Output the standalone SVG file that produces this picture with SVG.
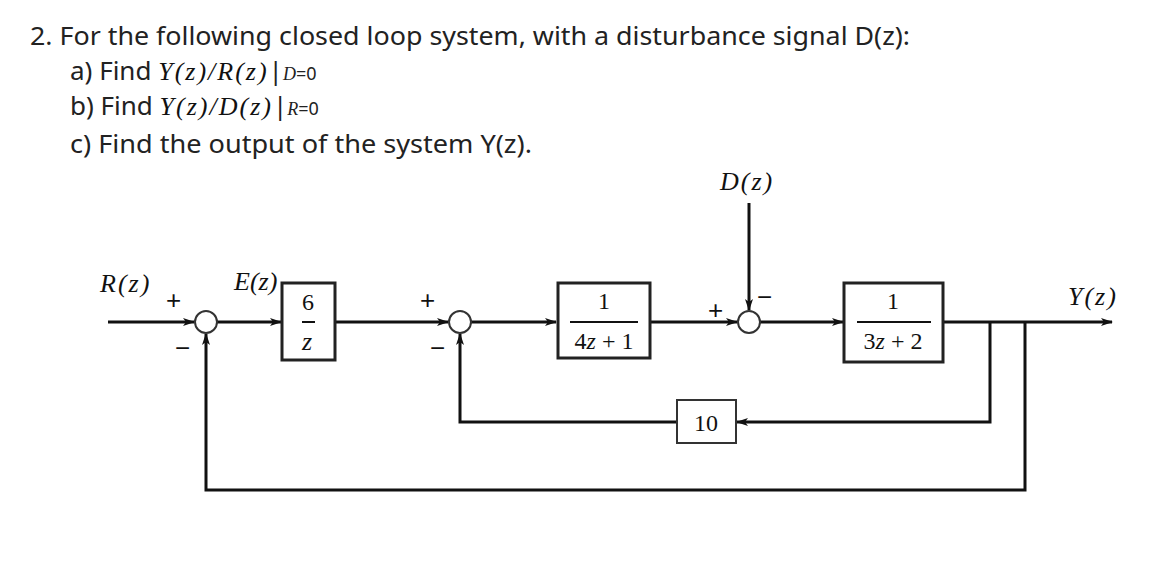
<svg xmlns="http://www.w3.org/2000/svg" width="1170" height="568" viewBox="0 0 1170 568">
<style>
.t{font-family:"Noto Sans","Liberation Sans",sans-serif;font-size:26px;fill:#222}
.m{font-family:"Liberation Serif",serif;font-style:italic;font-size:26px;fill:#111;letter-spacing:2px}
.n{font-family:"Liberation Serif",serif;font-size:24px;fill:#111}
.s{font-family:"Liberation Sans",sans-serif;font-size:26px;fill:#111}
.b{fill:#fff;stroke:#222;stroke-width:3}
.c{fill:#fff;stroke:#333;stroke-width:2}
.w{fill:none;stroke:#111;stroke-width:3}
</style>
<defs><marker id="a" markerWidth="12" markerHeight="8" refX="11" refY="4" orient="auto" markerUnits="userSpaceOnUse"><path d="M0,0 L12,4 L0,8 L3,4z" fill="#111"/></marker></defs>
<rect width="1170" height="568" fill="#fff"/>
<g id="header">
<text class="t" x="30" y="45" textLength="880" lengthAdjust="spacingAndGlyphs">2.  For the following closed loop system, with a disturbance signal D(z):</text>
<text class="t" x="70" y="80">a)  Find <tspan class="m">Y(z)/R(z)</tspan>|<tspan font-style="italic" font-size="18" font-family="Liberation Serif">D</tspan><tspan font-size="18">=0</tspan></text>
<text class="t" x="70" y="115">b)  Find <tspan class="m">Y(z)/D(z)</tspan>|<tspan font-style="italic" font-size="18" font-family="Liberation Serif">R</tspan><tspan font-size="18">=0</tspan></text>
<text class="t" x="70" y="153" textLength="462" lengthAdjust="spacingAndGlyphs">c)  Find the output of the system Y(z).</text>
</g>
<g id="connectors">
<path class="w" d="M108,322 H194" marker-end="url(#a)"/>
<path class="w" d="M217,322 H281" marker-end="url(#a)"/>
<path class="w" d="M335,322 H448" marker-end="url(#a)"/>
<path class="w" d="M471,322 H556" marker-end="url(#a)"/>
<path class="w" d="M650,322 H737" marker-end="url(#a)"/>
<path class="w" d="M760,322 H843" marker-end="url(#a)"/>
<path class="w" d="M943,322 H1112" marker-end="url(#a)"/>
<path class="w" d="M749,203 V310" marker-end="url(#a)"/>
<path class="w" d="M990,322 V422 H737" marker-end="url(#a)"/>
<path class="w" d="M677,422 H460 V334" marker-end="url(#a)"/>
<path class="w" d="M1025,322 V490 H206 V334" marker-end="url(#a)"/>
</g>
<g id="labels">
<text class="m" x="100" y="292">R(z)</text>
<text class="m" x="234" y="290" style="letter-spacing:0">E(z)</text>
<text class="m" x="720" y="190">D(z)</text>
<text class="m" x="1068" y="305">Y(z)</text>
<text class="s" x="166" y="309">+</text><text class="s" x="175" y="357">−</text>
<text class="s" x="420" y="309">+</text><text class="s" x="430" y="357">−</text>
<text class="s" x="708" y="319">+</text><text class="s" x="757" y="306">−</text>
</g>
<g id="sum1"><circle class="c" cx="206" cy="322" r="11"/></g>
<g id="sum2"><circle class="c" cx="460" cy="322" r="11"/></g>
<g id="sum3"><circle class="c" cx="749" cy="322" r="11"/></g>
<g id="g1"><rect class="b" x="282" y="283" width="53" height="77"/>
<text class="n" x="308" y="310" text-anchor="middle">6</text><line x1="302" y1="322" x2="315" y2="322" stroke="#111" stroke-width="2"/><text class="m" x="308" y="350" text-anchor="middle">z</text></g>
<g id="g2"><rect class="b" x="558" y="283" width="92" height="75"/>
<text class="n" x="604" y="309" text-anchor="middle">1</text><line x1="570" y1="322" x2="638" y2="322" stroke="#111" stroke-width="2"/><text class="n" x="604" y="349" text-anchor="middle">4<tspan font-style="italic">z</tspan> + 1</text></g>
<g id="g3"><rect class="b" x="844" y="283" width="99" height="79"/>
<text class="n" x="893" y="309" text-anchor="middle">1</text><line x1="857" y1="322" x2="931" y2="322" stroke="#111" stroke-width="2"/><text class="n" x="893" y="349" text-anchor="middle">3<tspan font-style="italic">z</tspan> + 2</text></g>
<g id="k10"><rect class="c" x="677" y="400" width="59" height="43"/><text class="n" x="706" y="431" text-anchor="middle">10</text></g>
</svg>
